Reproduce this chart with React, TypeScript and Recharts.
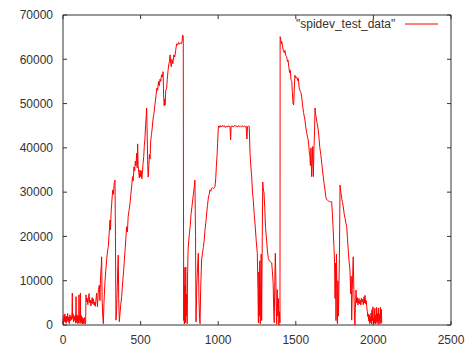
import { LineChart, Line, XAxis, YAxis, ReferenceArea, Legend } from 'recharts';

// [sample index, reading], segment by segment
const START_NOISE: [number, number][] = [
  [0, 1500], [3, 300], [6, 2200], [9, 800], [12, 2500], [15, 600], [18, 1900], [21, 400],
  [24, 2000], [27, 1000], [30, 2600], [33, 700], [36, 1800], [40, 300], [44, 2300], [48, 900],
  [52, 2000], [56, 1200], [58, 3000], [60, 7200], [62, 1500], [65, 2500], [68, 700], [72, 2000],
  [76, 1000], [80, 2300], [82, 400], [84, 6400], [86, 1800], [89, 600], [92, 2200], [95, 300],
  [98, 1900], [101, 500], [103, 6800], [105, 1200], [108, 2000], [110, 300], [112, 7200], [114, 800],
  [117, 2200], [120, 400], [123, 1800], [126, 200], [130, 1500], [134, 300], [138, 1700], [142, 200],
  [146, 400],
];

const LOW_STEP: [number, number][] = [
  [148, 6800], [152, 5200], [156, 6000], [160, 4600], [164, 5800], [168, 7100], [172, 5000],
  [176, 5600], [180, 4300], [184, 5400], [188, 6200], [192, 4800], [196, 5900], [200, 4500],
  [204, 5200], [208, 4200], [212, 5600], [217, 7200], [222, 4100],
];

const FIRST_RISE: [number, number][] = [
  [228, 8000], [234, 9000], [238, 5500], [242, 11000], [246, 13000], [249, 15400], [252, 6000],
  [256, 2000], [260, 300], [264, 5000], [270, 9500], [276, 12500], [282, 15000], [288, 17000],
  [292, 17700], [297, 20500], [303, 23700], [306, 21500], [310, 25500], [315, 28000], [320, 30500],
  [325, 29500], [330, 32000], [335, 32700], [338, 20000], [341, 1100], [345, 3000], [350, 9000],
  [353, 13200], [356, 15800], [359, 6000], [363, 750], [367, 2500], [372, 4500], [378, 6400],
  [384, 9500], [390, 12000], [395, 14500], [400, 16900], [405, 19500], [410, 22200], [415, 21000],
  [420, 24500], [426, 26000], [432, 27500], [437, 29500], [442, 31200], [448, 33500], [452, 32500],
  [457, 35700], [462, 34800], [466, 37000], [470, 36000], [475, 38800], [478, 35500], [481, 40900],
  [484, 36000], [488, 34500], [492, 33200], [496, 35000], [500, 33500], [504, 34800], [508, 33000],
  [512, 34500], [516, 36500], [520, 38000], [524, 40500], [528, 42000], [532, 45000], [536, 47000],
  [539, 49000], [543, 42000], [546, 36000], [549, 33400],
];

const TOP_CLIMB: [number, number][] = [
  [553, 36000], [557, 38500], [561, 37500], [565, 41500], [570, 43000], [575, 44500], [580, 46500],
  [585, 47500], [590, 49000], [595, 50500], [600, 52000], [605, 53500], [610, 53000], [615, 55000],
  [620, 54000], [625, 55500], [630, 55000], [635, 56500], [640, 56000], [645, 57200], [648, 52000],
  [652, 49500], [655, 51000], [658, 49700], [662, 53000], [668, 53500], [672, 55500], [677, 57500],
  [682, 59000], [686, 59500], [690, 61000], [694, 59000], [698, 58300], [702, 60000], [708, 59000],
  [714, 61000], [720, 60500], [726, 62000], [732, 63500], [738, 63200], [744, 63800], [750, 63400],
  [756, 63700], [762, 63500], [767, 64000], [771, 65500], [775, 65000],
];

const LEFT_DIPS: [number, number][] = [
  [776, 33400], [778, 1000], [780, 13000], [782, 200], [785, 9000], [788, 500], [791, 13100],
  [794, 2000], [797, 7000], [800, 300], [803, 12000], [806, 17000], [810, 19000], [815, 20800],
  [820, 22500], [825, 25000], [830, 26500], [835, 28000], [840, 29500], [845, 31000], [850, 32700],
  [854, 20000], [857, 700], [862, 9000], [867, 13000], [872, 16200], [876, 6000], [880, 1500],
  [883, 300], [887, 8000], [893, 14700], [898, 16000], [904, 17500], [910, 19200], [915, 21500],
  [920, 23000], [926, 25300], [931, 27000], [937, 28900], [942, 29500], [947, 30500], [952, 30200],
  [958, 30900], [964, 31000], [970, 30800], [979, 31200], [984, 33000], [988, 35700], [993, 38500],
  [996, 41000], [1001, 44700],
];

const PLATEAU: [number, number][] = [
  [1005, 45000], [1010, 44600], [1016, 45000], [1022, 44700], [1028, 45100], [1034, 44800],
  [1040, 45000], [1046, 44600], [1052, 44900], [1058, 44700], [1064, 45000], [1070, 44800],
  [1076, 44900], [1080, 41800], [1083, 44800], [1090, 45000], [1096, 44700], [1102, 44900],
  [1108, 45100], [1114, 44800], [1120, 44900], [1126, 44700], [1132, 45000], [1138, 44800],
  [1144, 44900], [1150, 44700], [1156, 45000], [1162, 44800], [1168, 44900], [1174, 44700],
  [1180, 44900], [1185, 42000], [1189, 44800], [1196, 44900], [1200, 44800],
];

const PLATEAU_FALL: [number, number][] = [
  [1205, 38800], [1210, 36000], [1216, 33400], [1221, 30000], [1226, 28200], [1232, 25000],
  [1239, 22100], [1245, 19000], [1252, 16200], [1256, 8000], [1259, 500], [1262, 12000],
  [1265, 2000], [1268, 14500], [1271, 300], [1274, 10000], [1277, 16000], [1280, 1000],
  [1284, 20000], [1287, 32300], [1290, 31000], [1295, 29800], [1300, 26500], [1305, 22000],
  [1312, 19000], [1318, 16500], [1323, 15000], [1330, 14500], [1338, 14200], [1345, 14000],
  [1350, 11500], [1354, 9500], [1358, 3000], [1361, 500], [1365, 10000], [1368, 16200],
  [1371, 12000], [1374, 4000], [1377, 200], [1380, 8000], [1384, 2000], [1388, 6000],
  [1391, 0], [1395, 3000], [1398, 500],
];

const RIGHT_PEAK: [number, number][] = [
  [1399, 65100], [1402, 64700], [1406, 63500], [1410, 64000], [1415, 62800], [1420, 62000],
  [1425, 61500], [1430, 62000], [1436, 60800], [1441, 60600], [1446, 59500], [1450, 59800],
  [1455, 58300], [1460, 57000], [1465, 57500], [1469, 55300], [1474, 55000], [1478, 52500],
  [1482, 50000], [1486, 49700], [1490, 53000], [1494, 56400], [1500, 55800], [1506, 56000],
  [1512, 55200], [1516, 55700], [1522, 53500], [1528, 52800], [1533, 52500], [1538, 51500],
  [1544, 49500], [1550, 48000], [1555, 47000], [1559, 46300], [1565, 44500], [1570, 43500],
  [1575, 42500], [1580, 41800], [1585, 40000], [1588, 38500], [1591, 38000], [1594, 36000],
  [1598, 40000], [1602, 33500], [1606, 37000], [1609, 40300], [1613, 33500], [1617, 40000],
  [1621, 44000], [1624, 49000], [1628, 47500], [1633, 46500], [1638, 45500], [1645, 44000],
  [1650, 42000], [1655, 40000], [1661, 38500], [1667, 36600], [1672, 35000], [1677, 33500],
  [1682, 32000], [1688, 30500], [1693, 29000], [1698, 28400], [1703, 28200], [1710, 28000],
  [1718, 27900], [1725, 27800], [1731, 27800],
];

const RIGHT_DIPS: [number, number][] = [
  [1736, 25000], [1741, 21400], [1746, 17500], [1750, 14000], [1753, 6000], [1756, 14000],
  [1759, 1000], [1762, 16000], [1765, 8000], [1768, 300], [1771, 10000], [1775, 2000],
  [1778, 9000], [1781, 15000], [1785, 31600], [1790, 30000], [1796, 28500], [1801, 27700],
  [1806, 26700], [1812, 25000], [1818, 24000], [1823, 23000], [1828, 22200], [1833, 19500],
  [1838, 16900], [1843, 14500], [1849, 12400], [1854, 7000], [1857, 11000], [1860, 1100],
  [1864, 8000], [1867, 12000], [1870, 15400], [1874, 8000], [1878, 2000], [1881, 0],
];

const TAIL: [number, number][] = [
  [1884, 4000], [1888, 7900], [1892, 5000], [1896, 6200], [1900, 4500], [1903, 4900],
  [1907, 6000], [1911, 4800], [1915, 5600], [1919, 4500], [1923, 6100], [1927, 5200],
  [1931, 5800], [1935, 4600], [1940, 6400], [1943, 5000], [1946, 6700], [1950, 4800],
  [1954, 5500], [1957, 4100], [1961, 3000], [1964, 1900], [1967, 2500], [1970, 900],
  [1973, 2300], [1976, 300], [1979, 1800], [1982, 600], [1985, 2700], [1988, 200],
  [1991, 3500], [1994, 1000], [1997, 4100], [2000, 300], [2003, 1500], [2006, 500],
  [2009, 3800], [2012, 200], [2015, 2200], [2018, 700], [2021, 4000], [2024, 300],
  [2027, 2600], [2030, 600], [2033, 3800], [2036, 100], [2039, 2400], [2042, 800],
  [2045, 4000], [2048, 300], [2051, 3500], [2054, 500],
];

const SAMPLES = [
  ...START_NOISE, ...LOW_STEP, ...FIRST_RISE, ...TOP_CLIMB, ...LEFT_DIPS,
  ...PLATEAU, ...PLATEAU_FALL, ...RIGHT_PEAK, ...RIGHT_DIPS, ...TAIL,
].map(([n, v]) => ({ n, v }));

const X_TICKS = [0, 500, 1000, 1500, 2000, 2500];
const Y_TICKS = [0, 10000, 20000, 30000, 40000, 50000, 60000, 70000];
const SERIES_NAME = '"spidev_test_data"';

// plot box (gnuplot draws ticks inward on all four sides)
const PLOT_TOP = 15;
const PLOT_BOTTOM = 325;
const PLOT_LEFT = 63;
const PLOT_RIGHT = 451;
const TICK_LEN = 4;
const INK = '#333';

const XTick = ({ x, y, payload }: any) => (
  <g>
    <line x1={x} x2={x} y1={PLOT_BOTTOM} y2={PLOT_BOTTOM - TICK_LEN} stroke={INK} />
    <line x1={x} x2={x} y1={PLOT_TOP} y2={PLOT_TOP + TICK_LEN} stroke={INK} />
    <text x={x} y={y} dy="0.71em" textAnchor="middle" fill={INK} fontSize={12}>
      {payload.value}
    </text>
  </g>
);

const YTick = ({ x, y, payload }: any) => (
  <g>
    <line x1={PLOT_LEFT} x2={PLOT_LEFT + TICK_LEN} y1={y} y2={y} stroke={INK} />
    <line x1={PLOT_RIGHT} x2={PLOT_RIGHT - TICK_LEN} y1={y} y2={y} stroke={INK} />
    <text x={x} y={y} dy="0.355em" textAnchor="end" fill={INK} fontSize={12}>
      {payload.value}
    </text>
  </g>
);

const KeyBox = () => (
  <div style={{ display: 'flex', alignItems: 'center', fontSize: 12, color: INK, lineHeight: '14px' }}>
    <span>{SERIES_NAME}</span>
    <svg width={44} height={4} style={{ marginLeft: 10 }}>
      <line x1={0} x2={33} y1={2} y2={2} stroke="#ff0000" strokeWidth={1} />
    </svg>
  </div>
);

export default function App() {
  return (
    <div style={{ position: 'absolute', left: 0, top: 0, background: '#fff' }}>
      <LineChart
        width={474}
        height={355}
        data={SAMPLES}
        margin={{ top: PLOT_TOP, right: 474 - PLOT_RIGHT, bottom: 0, left: 0 }}
        style={{ fontFamily: '"Liberation Sans", Arial, sans-serif' }}
      >
        <XAxis
          dataKey="n"
          type="number"
          domain={[0, 2500]}
          ticks={X_TICKS}
          interval={0}
          height={30}
          tickSize={0}
          tickMargin={10}
          tickLine={false}
          axisLine={false}
          tick={<XTick />}
        />
        <YAxis
          type="number"
          domain={[0, 70000]}
          ticks={Y_TICKS}
          interval={0}
          width={PLOT_LEFT}
          tickSize={0}
          tickMargin={10}
          tickLine={false}
          axisLine={false}
          tick={<YTick />}
        />
        <ReferenceArea x1={0} x2={2500} y1={0} y2={70000} fill="none" stroke={INK} strokeWidth={1} />
        <Legend
          layout="horizontal"
          verticalAlign="middle"
          align="center"
          content={<KeyBox />}
          wrapperStyle={{ top: 17, left: 296, width: 'auto', height: 'auto' }}
        />
        <Line
          type="linear"
          dataKey="v"
          stroke="#ff0000"
          strokeWidth={1}
          dot={false}
          activeDot={false}
          isAnimationActive={false}
        />
      </LineChart>
    </div>
  );
}
